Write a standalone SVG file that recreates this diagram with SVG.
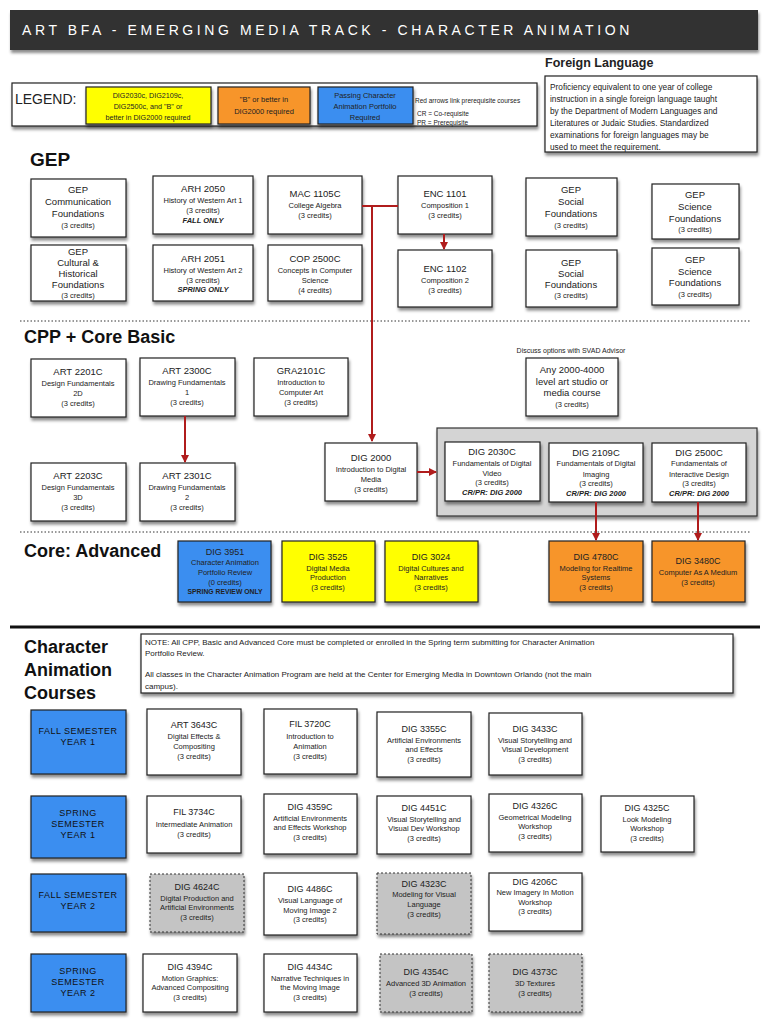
<svg xmlns="http://www.w3.org/2000/svg" width="768" height="1024" viewBox="0 0 768 1024">
<defs>
<filter id="sh" x="-10%" y="-10%" width="130%" height="140%"><feDropShadow dx="1" dy="3" stdDeviation="1.5" flood-color="#000" flood-opacity="0.45"/></filter>
<marker id="ah" markerWidth="8" markerHeight="8" refX="7" refY="4" orient="auto" markerUnits="userSpaceOnUse"><path d="M0,0 L8,4 L0,8 Z" fill="#b01c1c"/></marker>
</defs>
<style>
text{font-family:"Liberation Sans",Arial,sans-serif;fill:#222;text-anchor:middle}
.b{fill:#fff;stroke:#222;stroke-width:1.2;filter:url(#sh)}
.g{fill:#c4c4c4;stroke:#333;stroke-width:1;stroke-dasharray:2,2;filter:url(#sh)}
.y{fill:#ffff00;stroke:#222;stroke-width:1.2;filter:url(#sh)}
.o{fill:#f7952c;stroke:#222;stroke-width:1.2;filter:url(#sh)}
.bl{fill:#3a8ef0;stroke:#222;stroke-width:1.2;filter:url(#sh)}
.t{font-size:9.5px}
.s{font-size:7.5px}
.m{font-size:9px}
.i{font-size:7.5px;font-weight:bold;font-style:italic}
.h{font-size:19px;font-weight:bold;text-anchor:start;fill:#111}
.sem{font-size:9px;letter-spacing:0.5px;fill:#111}
.red{stroke:#b01c1c;stroke-width:2;fill:none}
.dot{stroke:#333;stroke-width:1;stroke-dasharray:1.5,2}
</style>
<rect x="10" y="10" width="748" height="40" fill="#333" filter="url(#sh)"/>
<text x="22" y="35" style="font-size:14px;fill:#fff;text-anchor:start;letter-spacing:3.6px">ART BFA - EMERGING MEDIA TRACK - CHARACTER ANIMATION</text>

<text x="545" y="67" style="font-size:12.5px;font-weight:bold;text-anchor:start">Foreign Language</text>
<g id="foreign"><rect class="b" x="545" y="76" width="212" height="76"/>
<text x="550" y="90" style="font-size:8.3px;text-anchor:start">Proficiency equivalent to one year of college</text>
<text x="550" y="102" style="font-size:8.3px;text-anchor:start">instruction in a single foreign language taught</text>
<text x="550" y="114" style="font-size:8.3px;text-anchor:start">by the Department of Modern Languages and</text>
<text x="550" y="126" style="font-size:8.3px;text-anchor:start">Literatures or Judaic Studies. Standardized</text>
<text x="550" y="138" style="font-size:8.3px;text-anchor:start">examinations for foreign languages may be</text>
<text x="550" y="150" style="font-size:8.3px;text-anchor:start">used to meet the requirement.</text></g>

<g id="legend"><rect class="b" x="12" y="83" width="525" height="43"/>
<text x="15" y="104" style="font-size:14px;text-anchor:start">LEGEND:</text>
<rect class="y" x="86" y="87" width="125" height="37"/>
<text x="148" y="98" style="font-size:7.2px">DIG2030c, DIG2109c,</text><text x="148" y="109" style="font-size:7.2px">DIG2500c, and "B" or</text><text x="148" y="120" style="font-size:7.2px">better in DIG2000 required</text>
<rect class="o" x="218" y="87" width="92" height="37"/>
<text x="264" y="102" class="s">"B" or better in</text><text x="264" y="114" class="s">DIG2000 required</text>
<rect class="bl" x="318" y="87" width="95" height="37"/>
<text x="365" y="98" class="s">Passing Character</text><text x="365" y="109" class="s">Animation Portfolio</text><text x="365" y="120" class="s">Required</text>
<text x="415" y="103" style="font-size:6.5px;text-anchor:start">Red arrows link prerequisite courses</text>
<text x="417" y="116" style="font-size:6.5px;text-anchor:start">CR = Co-requisite</text>
<text x="417" y="125" style="font-size:6.5px;text-anchor:start">PR = Prerequisite</text></g>

<text x="30" y="166" class="h">GEP</text>
<g id="gep1"><rect class="b" x="31" y="179" width="95" height="58"/><text x="78" y="193" class="t">GEP</text><text x="78" y="205" class="t">Communication</text><text x="78" y="217" class="t">Foundations</text><text x="78" y="228" class="s">(3 credits)</text></g>
<g id="arh2050"><rect class="b" x="153" y="176" width="100" height="58"/><text x="203" y="192" class="t">ARH 2050</text><text x="203" y="203" class="s">History of Western Art 1</text><text x="203" y="213" class="s">(3 credits)</text><text x="203" y="223" class="i">FALL ONLY</text></g>
<g id="mac1105"><rect class="b" x="268" y="176" width="94" height="58"/><text x="315" y="197" class="t">MAC 1105C</text><text x="315" y="208" class="s">College Algebra</text><text x="315" y="218" class="s">(3 credits)</text></g>
<g id="enc1101"><rect class="b" x="398" y="176" width="94" height="58"/><text x="445" y="197" class="t">ENC 1101</text><text x="445" y="208" class="s">Composition 1</text><text x="445" y="218" class="s">(3 credits)</text></g>
<g id="gepsoc1"><rect class="b" x="526" y="178" width="91" height="58"/><text x="571" y="193" class="t">GEP</text><text x="571" y="205" class="t">Social</text><text x="571" y="217" class="t">Foundations</text><text x="571" y="228" class="s">(3 credits)</text></g>
<g id="gepsci1"><rect class="b" x="652" y="184" width="87" height="55"/><text x="695" y="198" class="t">GEP</text><text x="695" y="210" class="t">Science</text><text x="695" y="222" class="t">Foundations</text><text x="695" y="232" class="s">(3 credits)</text></g>
<g id="gep2"><rect class="b" x="31" y="245" width="95" height="56"/><text x="78" y="255" class="t">GEP</text><text x="78" y="266" class="t">Cultural &amp;</text><text x="78" y="277" class="t">Historical</text><text x="78" y="288" class="t">Foundations</text><text x="78" y="298" class="s">(3 credits)</text></g>
<g id="arh2051"><rect class="b" x="153" y="245" width="100" height="56"/><text x="203" y="262" class="t">ARH 2051</text><text x="203" y="273" class="s">History of Western Art 2</text><text x="203" y="283" class="s">(3 credits)</text><text x="203" y="292" class="i">SPRING ONLY</text></g>
<g id="cop2500"><rect class="b" x="268" y="245" width="94" height="56"/><text x="315" y="262" class="t">COP 2500C</text><text x="315" y="273" class="s">Concepts in Computer</text><text x="315" y="283" class="s">Science</text><text x="315" y="293" class="s">(4 credits)</text></g>
<g id="enc1102"><rect class="b" x="398" y="250" width="94" height="57"/><text x="445" y="272" class="t">ENC 1102</text><text x="445" y="283" class="s">Composition 2</text><text x="445" y="293" class="s">(3 credits)</text></g>
<g id="gepsoc2"><rect class="b" x="526" y="250" width="91" height="57"/><text x="571" y="266" class="t">GEP</text><text x="571" y="277" class="t">Social</text><text x="571" y="288" class="t">Foundations</text><text x="571" y="298" class="s">(3 credits)</text></g>
<g id="gepsci2"><rect class="b" x="652" y="248" width="87" height="57"/><text x="695" y="263" class="t">GEP</text><text x="695" y="275" class="t">Science</text><text x="695" y="286" class="t">Foundations</text><text x="695" y="297" class="s">(3 credits)</text></g>

<line class="dot" x1="20" y1="321" x2="750" y2="321"/>
<text x="24" y="343" class="h" style="font-size:18px">CPP + Core Basic</text>
<text x="571" y="353" style="font-size:7px">Discuss options with SVAD Advisor</text>
<g id="art2201"><rect class="b" x="31" y="359" width="95" height="58"/><text x="78" y="375" class="t">ART 2201C</text><text x="78" y="386" class="s">Design Fundamentals</text><text x="78" y="396" class="s">2D</text><text x="78" y="406" class="s">(3 credits)</text></g>
<g id="art2300"><rect class="b" x="140" y="358" width="95" height="58"/><text x="187" y="374" class="t">ART 2300C</text><text x="187" y="385" class="s">Drawing Fundamentals</text><text x="187" y="395" class="s">1</text><text x="187" y="405" class="s">(3 credits)</text></g>
<g id="gra2101"><rect class="b" x="254" y="358" width="94" height="58"/><text x="301" y="374" class="t">GRA2101C</text><text x="301" y="385" class="s">Introduction to</text><text x="301" y="395" class="s">Computer Art</text><text x="301" y="405" class="s">(3 credits)</text></g>
<g id="any2000"><rect class="b" x="526" y="358" width="92" height="58"/><text x="572" y="373" class="t">Any 2000-4000</text><text x="572" y="385" class="t">level art studio or</text><text x="572" y="396" class="t">media course</text><text x="572" y="407" class="s">(3 credits)</text></g>
<g id="art2203"><rect class="b" x="31" y="463" width="95" height="58"/><text x="78" y="479" class="t">ART 2203C</text><text x="78" y="490" class="s">Design Fundamentals</text><text x="78" y="500" class="s">3D</text><text x="78" y="510" class="s">(3 credits)</text></g>
<g id="art2301"><rect class="b" x="140" y="463" width="95" height="58"/><text x="187" y="479" class="t">ART 2301C</text><text x="187" y="490" class="s">Drawing Fundamentals</text><text x="187" y="500" class="s">2</text><text x="187" y="510" class="s">(3 credits)</text></g>
<g id="dig2000"><rect class="b" x="325" y="443" width="92" height="58"/><text x="371" y="461" class="t">DIG 2000</text><text x="371" y="472" class="s">Introduction to Digital</text><text x="371" y="482" class="s">Media</text><text x="371" y="492" class="s">(3 credits)</text></g>
<g id="group"><rect x="437" y="428" width="320" height="88" fill="#d4d4d4" stroke="#333" stroke-width="1.2" filter="url(#sh)"/></g>
<g id="dig2030"><rect class="b" x="445" y="442" width="95" height="59"/><text x="492" y="455" class="t">DIG 2030C</text><text x="492" y="466" class="s">Fundamentals of Digital</text><text x="492" y="476" class="s">Video</text><text x="492" y="485" class="s">(3 credits)</text><text x="492" y="495" class="i">CR/PR: DIG 2000</text></g>
<g id="dig2109"><rect class="b" x="549" y="443" width="94" height="59"/><text x="596" y="456" class="t">DIG 2109C</text><text x="596" y="466" class="s">Fundamentals of Digital</text><text x="596" y="477" class="s">Imaging</text><text x="596" y="486" class="s">(3 credits)</text><text x="596" y="496" class="i">CR/PR: DIG 2000</text></g>
<g id="dig2500"><rect class="b" x="652" y="443" width="94" height="59"/><text x="699" y="456" class="t">DIG 2500C</text><text x="699" y="466" class="s">Fundamentals of</text><text x="699" y="477" class="s">Interactive Design</text><text x="699" y="486" class="s">(3 credits)</text><text x="699" y="496" class="i">CR/PR: DIG 2000</text></g>

<line class="dot" x1="20" y1="532" x2="750" y2="532"/>
<text x="24" y="557" class="h" style="font-size:18px">Core: Advanced</text>
<g id="dig3951"><rect class="bl" x="178" y="541" width="93" height="61"/><text x="225" y="555" class="m">DIG 3951</text><text x="225" y="565" class="s">Character Animation</text><text x="225" y="575" class="s">Portfolio Review</text><text x="225" y="585" class="s">(0 credits)</text><text x="225" y="594" style="font-size:6.8px;font-weight:bold">SPRING REVIEW ONLY</text></g>
<g id="dig3525"><rect class="y" x="282" y="541" width="93" height="61"/><text x="328" y="560" class="m">DIG 3525</text><text x="328" y="571" class="s">Digital Media</text><text x="328" y="580" class="s">Production</text><text x="328" y="590" class="s">(3 credits)</text></g>
<g id="dig3024"><rect class="y" x="385" y="541" width="93" height="61"/><text x="431" y="560" class="m">DIG 3024</text><text x="431" y="571" class="s">Digital Cultures and</text><text x="431" y="580" class="s">Narratives</text><text x="431" y="590" class="s">(3 credits)</text></g>
<g id="dig4780"><rect class="o" x="549" y="541" width="94" height="61"/><text x="596" y="560" class="m">DIG 4780C</text><text x="596" y="571" class="s">Modeling for Realtime</text><text x="596" y="580" class="s">Systems</text><text x="596" y="590" class="s">(3 credits)</text></g>
<g id="dig3480"><rect class="o" x="652" y="541" width="93" height="61"/><text x="698" y="564" class="m">DIG 3480C</text><text x="698" y="575" class="s">Computer As A Medium</text><text x="698" y="585" class="s">(3 credits)</text></g>

<line x1="10" y1="627" x2="760" y2="627" stroke="#111" stroke-width="3"/>
<text x="24" y="653" class="h" style="font-size:18px">Character</text>
<text x="24" y="676" class="h" style="font-size:18px">Animation</text>
<text x="24" y="699" class="h" style="font-size:18px">Courses</text>
<g id="note"><rect class="b" x="141" y="634" width="592" height="59"/>
<text x="145" y="645" style="font-size:8px;text-anchor:start">NOTE: All CPP, Basic and Advanced Core must be completed or enrolled in the Spring term submitting for Character Animation</text>
<text x="145" y="656" style="font-size:8px;text-anchor:start">Portfolio Review.</text>
<text x="145" y="677" style="font-size:8px;text-anchor:start">All classes in the Character Animation Program are held at the Center for Emerging Media in Downtown Orlando (not the main</text>
<text x="145" y="689" style="font-size:8px;text-anchor:start">campus).</text></g>

<g id="sem1"><rect class="bl" x="31" y="710" width="95" height="64"/><text x="78" y="734" class="sem">FALL SEMESTER</text><text x="78" y="745" class="sem">YEAR 1</text></g>
<g id="sem2"><rect class="bl" x="31" y="796" width="95" height="62"/><text x="78" y="816" class="sem">SPRING</text><text x="78" y="827" class="sem">SEMESTER</text><text x="78" y="838" class="sem">YEAR 1</text></g>
<g id="sem3"><rect class="bl" x="31" y="874" width="95" height="58"/><text x="78" y="898" class="sem">FALL SEMESTER</text><text x="78" y="909" class="sem">YEAR 2</text></g>
<g id="sem4"><rect class="bl" x="31" y="954" width="95" height="58"/><text x="78" y="974" class="sem">SPRING</text><text x="78" y="985" class="sem">SEMESTER</text><text x="78" y="996" class="sem">YEAR 2</text></g>

<g id="art3643"><rect class="b" x="147" y="709" width="94" height="66"/><text x="194" y="728" class="m">ART 3643C</text><text x="194" y="739" class="s">Digital Effects &amp;</text><text x="194" y="749" class="s">Compositing</text><text x="194" y="759" class="s">(3 credits)</text></g>
<g id="fil3720"><rect class="b" x="264" y="709" width="93" height="65"/><text x="310" y="727" class="m">FIL 3720C</text><text x="310" y="739" class="s">Introduction to</text><text x="310" y="749" class="s">Animation</text><text x="310" y="759" class="s">(3 credits)</text></g>
<g id="dig3355"><rect class="b" x="377" y="712" width="94" height="65"/><text x="424" y="732" class="m">DIG 3355C</text><text x="424" y="743" class="s">Artificial Environments</text><text x="424" y="752" class="s">and Effects</text><text x="424" y="762" class="s">(3 credits)</text></g>
<g id="dig3433"><rect class="b" x="489" y="713" width="93" height="62"/><text x="535" y="732" class="m">DIG 3433C</text><text x="535" y="743" class="s">Visual Storytelling and</text><text x="535" y="752" class="s">Visual Development</text><text x="535" y="762" class="s">(3 credits)</text></g>

<g id="fil3734"><rect class="b" x="147" y="796" width="94" height="57"/><text x="194" y="815" class="m">FIL 3734C</text><text x="194" y="827" class="s">Intermediate Animation</text><text x="194" y="837" class="s">(3 credits)</text></g>
<g id="dig4359"><rect class="b" x="264" y="794" width="93" height="60"/><text x="310" y="810" class="m">DIG 4359C</text><text x="310" y="821" class="s">Artificial Environments</text><text x="310" y="830" class="s">and Effects Workshop</text><text x="310" y="840" class="s">(3 credits)</text></g>
<g id="dig4451"><rect class="b" x="377" y="796" width="94" height="58"/><text x="424" y="811" class="m">DIG 4451C</text><text x="424" y="822" class="s">Visual Storytelling and</text><text x="424" y="831" class="s">Visual Dev Workshop</text><text x="424" y="841" class="s">(3 credits)</text></g>
<g id="dig4326"><rect class="b" x="489" y="794" width="93" height="58"/><text x="535" y="809" class="m">DIG 4326C</text><text x="535" y="820" class="s">Geometrical Modeling</text><text x="535" y="829" class="s">Workshop</text><text x="535" y="839" class="s">(3 credits)</text></g>
<g id="dig4325"><rect class="b" x="601" y="796" width="93" height="56"/><text x="647" y="811" class="m">DIG 4325C</text><text x="647" y="822" class="s">Look Modeling</text><text x="647" y="831" class="s">Workshop</text><text x="647" y="841" class="s">(3 credits)</text></g>

<g id="dig4624"><rect class="g" x="150" y="874" width="94" height="58"/><text x="197" y="890" class="m">DIG 4624C</text><text x="197" y="901" class="s">Digital Production and</text><text x="197" y="910" class="s">Artificial Environments</text><text x="197" y="920" class="s">(3 credits)</text></g>
<g id="dig4486"><rect class="b" x="264" y="873" width="93" height="62"/><text x="310" y="892" class="m">DIG 4486C</text><text x="310" y="903" class="s">Visual Language of</text><text x="310" y="913" class="s">Moving Image 2</text><text x="310" y="922" class="s">(3 credits)</text></g>
<g id="dig4323"><rect class="g" x="377" y="873" width="94" height="61"/><text x="424" y="887" class="m">DIG 4323C</text><text x="424" y="897" class="s">Modeling for Visual</text><text x="424" y="907" class="s">Language</text><text x="424" y="917" class="s">(3 credits)</text></g>
<g id="dig4206"><rect class="b" x="489" y="873" width="93" height="58"/><text x="535" y="885" class="m">DIG 4206C</text><text x="535" y="895" class="s">New Imagery In Motion</text><text x="535" y="905" class="s">Workshop</text><text x="535" y="914" class="s">(3 credits)</text></g>

<g id="dig4394"><rect class="b" x="143" y="954" width="94" height="58"/><text x="190" y="970" class="m">DIG 4394C</text><text x="190" y="981" class="s">Motion Graphics:</text><text x="190" y="990" class="s">Advanced Compositing</text><text x="190" y="1000" class="s">(3 credits)</text></g>
<g id="dig4434"><rect class="b" x="264" y="954" width="93" height="58"/><text x="310" y="970" class="m">DIG 4434C</text><text x="310" y="981" class="s">Narrative Techniques in</text><text x="310" y="990" class="s">the Moving Image</text><text x="310" y="1000" class="s">(3 credits)</text></g>
<g id="dig4354"><rect class="g" x="380" y="954" width="92" height="58"/><text x="426" y="975" class="m">DIG 4354C</text><text x="426" y="986" class="s">Advanced 3D Animation</text><text x="426" y="996" class="s">(3 credits)</text></g>
<g id="dig4373"><rect class="g" x="489" y="954" width="93" height="58"/><text x="535" y="975" class="m">DIG 4373C</text><text x="535" y="986" class="s">3D Textures</text><text x="535" y="996" class="s">(3 credits)</text></g>

<g id="connectors">
<line class="red" x1="362" y1="206" x2="398" y2="206"/>
<line class="red" x1="372" y1="206" x2="372" y2="441" marker-end="url(#ah)"/>
<line class="red" x1="444" y1="234" x2="444" y2="249" marker-end="url(#ah)"/>
<line class="red" x1="185" y1="416" x2="185" y2="462" marker-end="url(#ah)"/>
<line class="red" x1="417" y1="472" x2="436" y2="472" marker-end="url(#ah)"/>
<line class="red" x1="596" y1="502" x2="596" y2="540" marker-end="url(#ah)"/>
<line class="red" x1="698" y1="502" x2="698" y2="540" marker-end="url(#ah)"/>
</g>
</svg>
